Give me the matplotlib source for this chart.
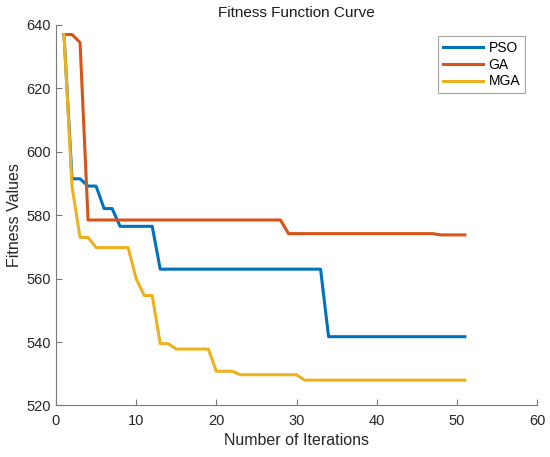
import numpy as np
import matplotlib
matplotlib.use('Agg')
import matplotlib.pyplot as plt

plt.rcParams['font.family'] = ['Liberation Sans', 'DejaVu Sans']

iters = np.arange(1, 52)

# PSO: step values
pso = [637, 591.5, 591.5, 589.2, 589.2, 582.1, 582.1] + [576.5] * 5 + [563.0] * 21 + [541.7] * 18
# GA
ga = [637, 637, 634.5] + [578.5] * 25 + [574.2] * 19 + [573.8] * 4
# MGA
mga = [637, 589, 573.0, 573.0] + [569.8] * 5 + [560.0, 554.7, 554.7, 539.5, 539.5] \
      + [537.8] * 5 + [530.8] * 3 + [529.7] * 8 + [528.0] * 21

names = ['PSO', 'GA', 'MGA']
colors = ['#0072BD', '#D95319', '#EDB120']

fig = plt.figure(figsize=(5.5, 4.57), dpi=100)
ax = fig.add_axes([0.1018, 0.1127, 0.8746, 0.8326])

for y, name, c in zip([pso, ga, mga], names, colors):
    ax.plot(iters, y, color=c, linewidth=2.2, label=name)

ax.set_xlim(0, 60)
ax.set_ylim(520, 640)
ax.set_xticks(range(0, 61, 10))
ax.set_yticks(range(520, 641, 20))

for s in ['top', 'right']:
    ax.spines[s].set_visible(False)
for s in ['left', 'bottom']:
    ax.spines[s].set_color('#7a7a7a')
    ax.spines[s].set_linewidth(0.8)
ax.tick_params(direction='in', length=4, width=0.8, color='#7a7a7a',
               labelsize=10.5, labelcolor='#262626')
ax.tick_params(axis='x', pad=6)

ax.set_xlabel('Number of Iterations', fontsize=11.5, color='#262626', labelpad=4)
ax.set_ylabel('Fitness Values', fontsize=11.5, color='#262626', labelpad=3)
ax.set_title('Fitness Function Curve', fontsize=11, color='#1a1a1a', pad=6)

leg = ax.legend(loc='upper right', bbox_to_anchor=(525 / 550, 1 - 36 / 457),
                bbox_transform=fig.transFigure, fontsize=10, frameon=True,
                fancybox=False, handlelength=2.9, borderpad=0.35,
                labelspacing=0.2, handletextpad=0.4, borderaxespad=0)
leg.get_frame().set_edgecolor('#8c8c8c')
leg.get_frame().set_linewidth(0.8)

fig.savefig('out.png', dpi=100)
